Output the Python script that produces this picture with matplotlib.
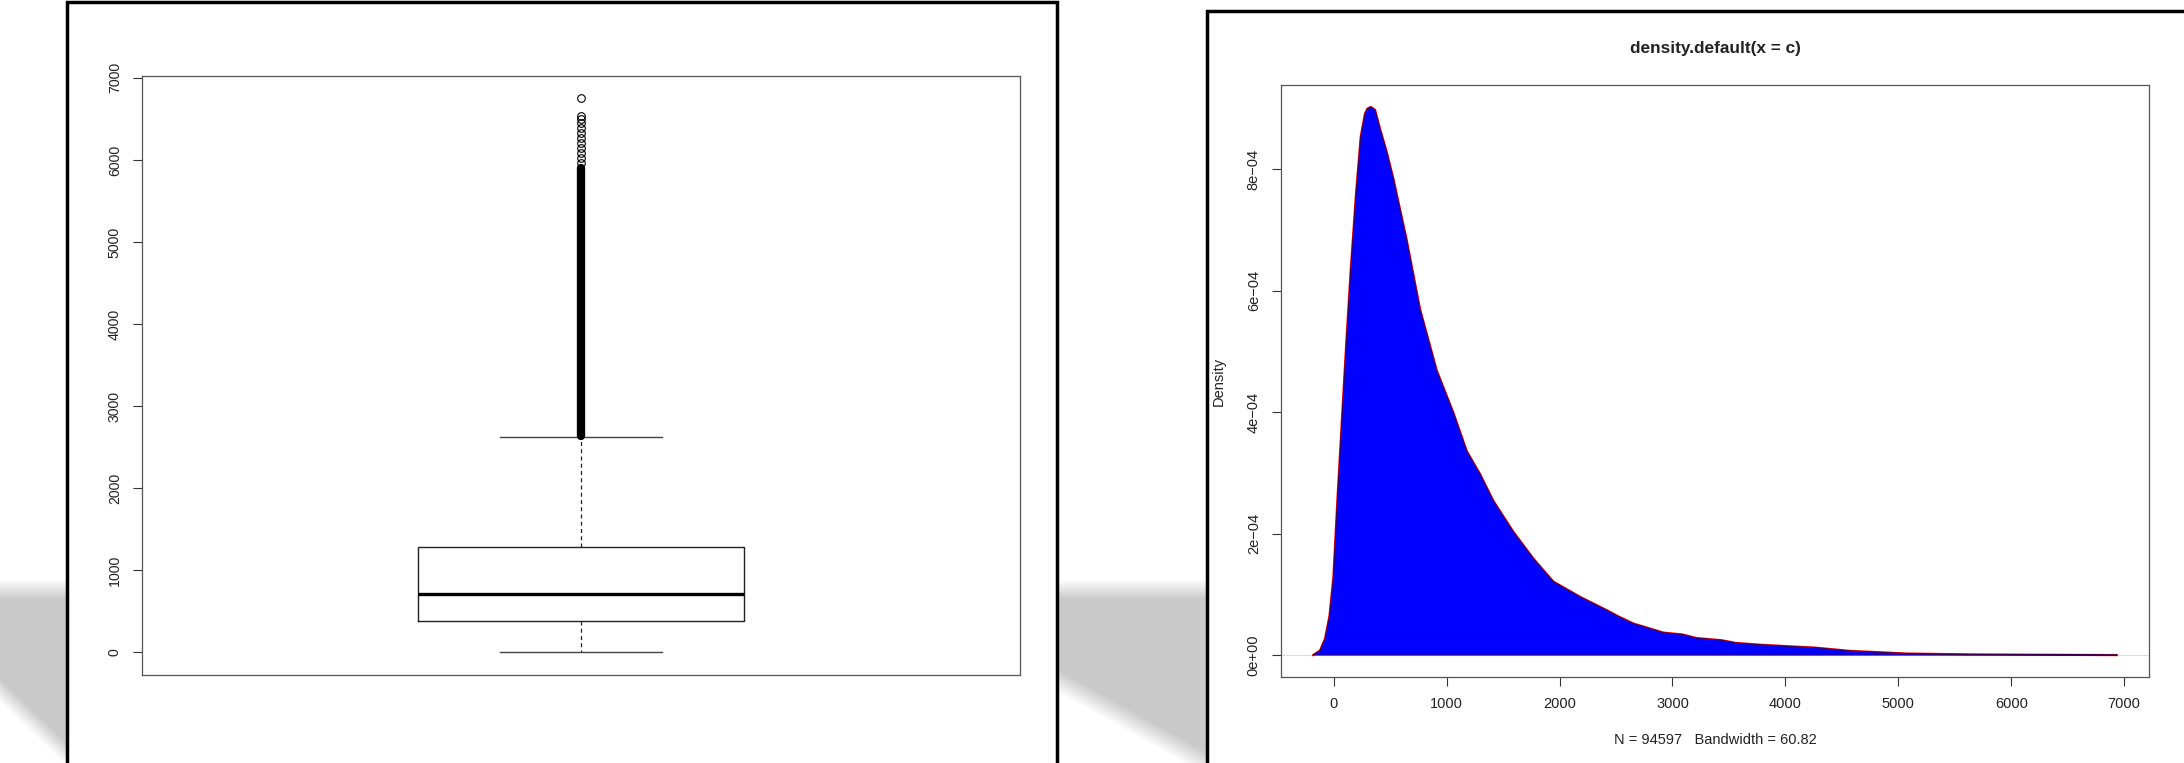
import numpy as np
import matplotlib
matplotlib.use("Agg")
import matplotlib.pyplot as plt
from matplotlib.patches import Rectangle

plt.rcParams['font.family'] = ['Liberation Sans', 'DejaVu Sans']

# ------------------------------------------------------------
# boxplot values
# ------------------------------------------------------------
box_q1 = 386
box_med = 711
box_q3 = 1279
whisk_lo = 0
whisk_hi = 2624
outliers = [6753, 6536, 6496, 6447, 6386, 6326, 6265, 6204, 6143, 6082, 6021, 5960]
dense_run = [2640, 5900]   # outliers so dense they merge into a black bar
box_yticks = [0, 1000, 2000, 3000, 4000, 5000, 6000, 7000]

# ------------------------------------------------------------
# density curve (x, density * 1e4)
# ------------------------------------------------------------
dens_x = [-182, -121, -77, -38, -3, 32, 70, 109, 150, 197, 239, 277, 298, 328,
          366, 410, 469, 528, 646, 764, 912, 1060, 1178, 1296, 1414, 1591,
          1768, 1945, 2181, 2417, 2517, 2653, 2919, 3086, 3213, 3434, 3560,
          3782, 4130, 4256, 4572, 4762, 5079, 5648, 6935]
dens_y = [0, 0.076, 0.27, 0.64, 1.28, 2.54, 3.80, 5.07, 6.33, 7.59, 8.54, 8.92,
          9.00, 9.03, 8.98, 8.67, 8.29, 7.85, 6.84, 5.70, 4.69, 3.99, 3.36,
          2.98, 2.54, 2.03, 1.59, 1.21, 0.96, 0.74, 0.64, 0.52, 0.37, 0.34,
          0.28, 0.245, 0.20, 0.17, 0.135, 0.124, 0.069, 0.053, 0.025, 0.011, 0]
dens_xticks = [0, 1000, 2000, 3000, 4000, 5000, 6000, 7000]
dens_yticks = [0, 2e-4, 4e-4, 6e-4, 8e-4]
dens_ylabels = ["0e+00", "2e\u221204", "4e\u221204", "6e\u221204", "8e\u221204"]
dens_title = "density.default(x = c)"
dens_xlabel = "N = 94597   Bandwidth = 60.82"

W, H = 2184, 763
fig = plt.figure(figsize=(W / 100, H / 100), dpi=100)

# ------------------------------------------------------------
# grey "reflection" shadow behind the two framed pictures
# ------------------------------------------------------------
yy, xx = np.mgrid[0:H, 0:W].astype(float)

def ramp(v, w):
    return np.clip(v / w + 0.5, 0, 1)

top = ramp(yy - 589, 20)
edge_l = 690 + xx * (63 / 66)
edge_m = 680 + (xx - 1057) * (83 / 149)
sh_l = top * ramp(edge_l - yy, 24) * (xx < 72)
sh_m = top * ramp(edge_m - yy, 24) * ((xx > 1050) & (xx < 1212))
shade = np.maximum(sh_l, sh_m)
grey = 1 - shade * (1 - 201 / 255)
bg = np.dstack([grey, grey, grey])
fig.figimage(bg, 0, 0, origin='upper', zorder=-1)

# frames of the two pictures
fig.add_artist(Rectangle((67 / W, -0.1), (1057 - 67) / W, (H - 2.5) / H + 0.1,
                         transform=fig.transFigure, fc='white', ec='black',
                         lw=2.5, zorder=0.5))
fig.add_artist(Rectangle((1207 / W, -0.1), 0.5, (H - 10.7) / H + 0.1,
                         transform=fig.transFigure, fc='white', ec='black',
                         lw=2.5, zorder=0.5))

txt_col = '#222222'
ax_col = '#555555'

# ------------------------------------------------------------
# left: boxplot
# ------------------------------------------------------------
ax1 = fig.add_axes([142 / W, 1 - 674.5 / H, (1020 - 142) / W, (674.5 - 76) / H])
ax1.set_zorder(2)
stats = [dict(med=box_med, q1=box_q1, q3=box_q3, whislo=whisk_lo,
              whishi=whisk_hi, fliers=outliers)]
ax1.bxp(stats, positions=[1], widths=0.4, capwidths=0.2,
        boxprops=dict(color='#222222', lw=1.0),
        medianprops=dict(color='black', lw=2.4, solid_capstyle='butt'),
        whiskerprops=dict(color='#222222', lw=0.9, linestyle=(0, (3.2, 2.6))),
        capprops=dict(color='#444444', lw=1.0),
        flierprops=dict(marker='o', mfc='none', mec='black', ms=5.5, mew=0.8))
ax1.vlines(1, dense_run[0], dense_run[1], colors='black', lw=6, capstyle='round')
ax1.set_xlim(0.46, 1.54)
ax1.set_ylim(-270, 7023)
ax1.set_xticks([])
ax1.set_yticks(box_yticks)
ax1.set_yticklabels([str(v) for v in box_yticks], rotation=90, va='center')
ax1.tick_params(axis='y', length=6.5, width=0.8, color='#333333', pad=8,
                labelsize=10.2, labelcolor=txt_col)
for s in ax1.spines.values():
    s.set_color(ax_col)
    s.set_linewidth(0.9)

# ------------------------------------------------------------
# right: density
# ------------------------------------------------------------
ax2 = fig.add_axes([1281 / W, 1 - 677 / H, (2149 - 1281) / W, (677 - 85) / H])
ax2.set_zorder(2)
dx = np.array(dens_x)
dy = np.array(dens_y) * 1e-4
ax2.axhline(0, color='#dddddd', lw=0.8, zorder=1)
ax2.plot(dx, dy, color='red', lw=1.6, zorder=2, solid_joinstyle='round')
ax2.fill(dx, dy, facecolor='blue', edgecolor='#3a0050', lw=0.7, zorder=3,
         joinstyle='round')
ax2.set_xlim(-467, 7220)
ax2.set_ylim(-0.361e-4, 9.391e-4)
ax2.set_xticks(dens_xticks)
ax2.set_xticklabels([str(v) for v in dens_xticks])
ax2.set_yticks(dens_yticks)
ax2.set_yticklabels(dens_ylabels, rotation=90, va='center')
ax2.tick_params(axis='both', length=6.5, width=0.8, color='#333333', pad=8,
                labelsize=10.5, labelcolor=txt_col)
ax2.set_ylabel("Density", fontsize=10.5, color=txt_col, va='center')
ax2.yaxis.set_label_coords(-0.0714, 0.5)
ax2.set_xlabel(dens_xlabel, fontsize=10.5, color=txt_col, va='center')
ax2.xaxis.set_label_coords(0.5, -(740.5 - 677) / 592)
ax2.text(0.5, 1 + (85 - 49) / 592, dens_title, transform=ax2.transAxes,
         ha='center', va='center', fontsize=12.4, fontweight='bold',
         color=txt_col)
for s in ax2.spines.values():
    s.set_color(ax_col)
    s.set_linewidth(0.9)

fig.savefig("out.png", dpi=100)
